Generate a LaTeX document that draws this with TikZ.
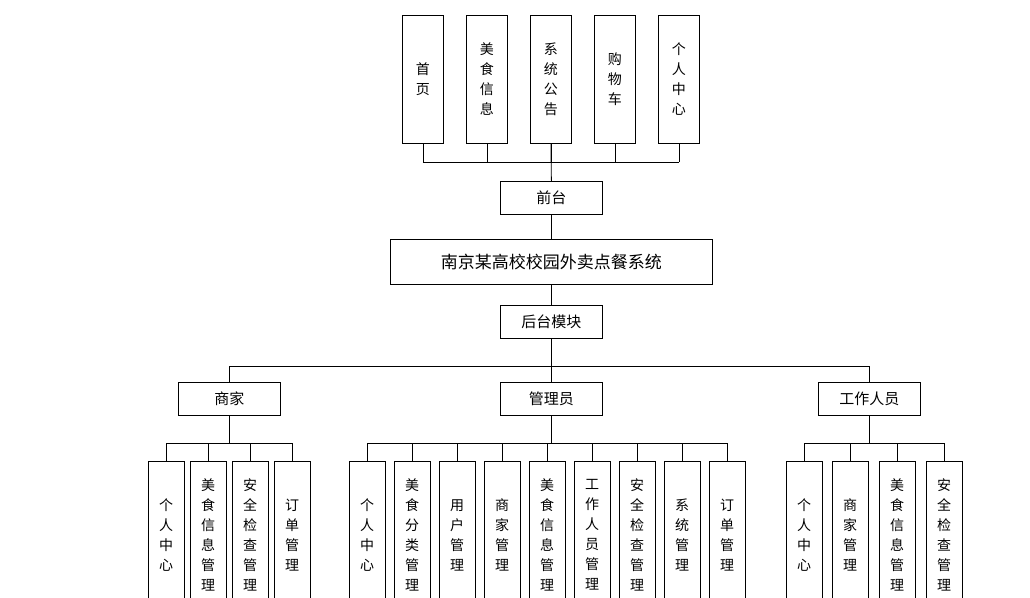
\documentclass[tikz,border=0pt]{standalone}
\usepackage{fontspec}
\setmainfont{Noto Sans CJK SC}
\begin{document}
\begin{tikzpicture}[x=1pt,y=-1pt,
  bx/.style={draw,thick,minimum width=102pt,minimum height=33pt,font=\fontsize{15}{18}\selectfont,anchor=north west,inner sep=0},
  vb/.style={draw,thick,anchor=north west,inner sep=0},
  vt/.style={align=center,font=\fontsize{14}{20}\selectfont,inner sep=0},
  ln/.style={thick}]
\useasboundingbox (0,0) rectangle (1030,597);
\begin{scope}
\clip (0,0) rectangle (1030,597);
% top
\foreach \x/\t [count=\i] in {402/首\\页,466/美\\食\\信\\息,530/系\\统\\公\\告,594/购\\物\\车,658/个\\人\\中\\心}{
  \node[vb,minimum width=41pt,minimum height=128pt] (t\i) at (\x,15) {};
  \node[vt] at (t\i.center) {\t};
}
\node[bx] (qt) at (500,181) {前台};
\node[bx,minimum width=322pt,minimum height=45pt,font=\fontsize{17}{20}\selectfont] (main) at (390,239) {南京某高校校园外卖点餐系统};
\node[bx] (ht) at (500,305) {后台模块};
\node[bx] (sj) at (178,382) {商家};
\node[bx] (gl) at (500,382) {管理员};
\node[bx] (gz) at (818,382) {工作人员};
\coordinate (tb) at (550,162);
\foreach \i in {1,...,5} \draw[ln] (t\i.south) -- (t\i.south|-tb);
\draw[ln] (t1.south|-tb) -- (t5.south|-tb);
\draw[ln] (t3.south) -- (qt.north);
\draw[ln] (qt.south) -- (main.north);
\draw[ln] (main.south) -- (ht.north);
\coordinate (mb) at (550,366);
\draw[ln] (ht.south) -- (gl.north);
\draw[ln] (sj.north|-mb) -- (gz.north|-mb);
\draw[ln] (sj.north|-mb) -- (sj.north);
\draw[ln] (gz.north|-mb) -- (gz.north);
% bottom
\foreach \x/\t [count=\i] in {148/个\\人\\中\\心,190/美\\食\\信\\息\\管\\理,232/安\\全\\检\\查\\管\\理,274/订\\单\\管\\理}{
  \node[vb,minimum width=36pt,minimum height=150pt] (a\i) at (\x,461) {};
  \node[vt] at (\x+18,535) {\t};
}
\foreach \x/\t [count=\i] in {349/个\\人\\中\\心,394/美\\食\\分\\类\\管\\理,439/用\\户\\管\\理,484/商\\家\\管\\理,529/美\\食\\信\\息\\管\\理,574/工\\作\\人\\员\\管\\理,619/安\\全\\检\\查\\管\\理,664/系\\统\\管\\理,709/订\\单\\管\\理}{
  \node[vb,minimum width=36pt,minimum height=150pt] (b\i) at (\x,461) {};
  \node[vt] at (\x+18,535) {\t};
}
\foreach \x/\t [count=\i] in {786/个\\人\\中\\心,832/商\\家\\管\\理,879/美\\食\\信\\息\\管\\理,926/安\\全\\检\\查\\管\\理}{
  \node[vb,minimum width=36pt,minimum height=150pt] (c\i) at (\x,461) {};
  \node[vt] at (\x+18,535) {\t};
}
\coordinate (bb) at (0,443);
\foreach \i in {1,...,4} \draw[ln] (a\i.north) -- (a\i.north|-bb);
\draw[ln] (a1.north|-bb) -- (a4.north|-bb);
\draw[ln] (sj.south) -- (sj.south|-bb);
\foreach \i in {1,...,9} \draw[ln] (b\i.north) -- (b\i.north|-bb);
\draw[ln] (b1.north|-bb) -- (b9.north|-bb);
\draw[ln] (gl.south) -- (gl.south|-bb);
\foreach \i in {1,...,4} \draw[ln] (c\i.north) -- (c\i.north|-bb);
\draw[ln] (c1.north|-bb) -- (c4.north|-bb);
\draw[ln] (gz.south) -- (gz.south|-bb);
\end{scope}
\end{tikzpicture}
\end{document}
